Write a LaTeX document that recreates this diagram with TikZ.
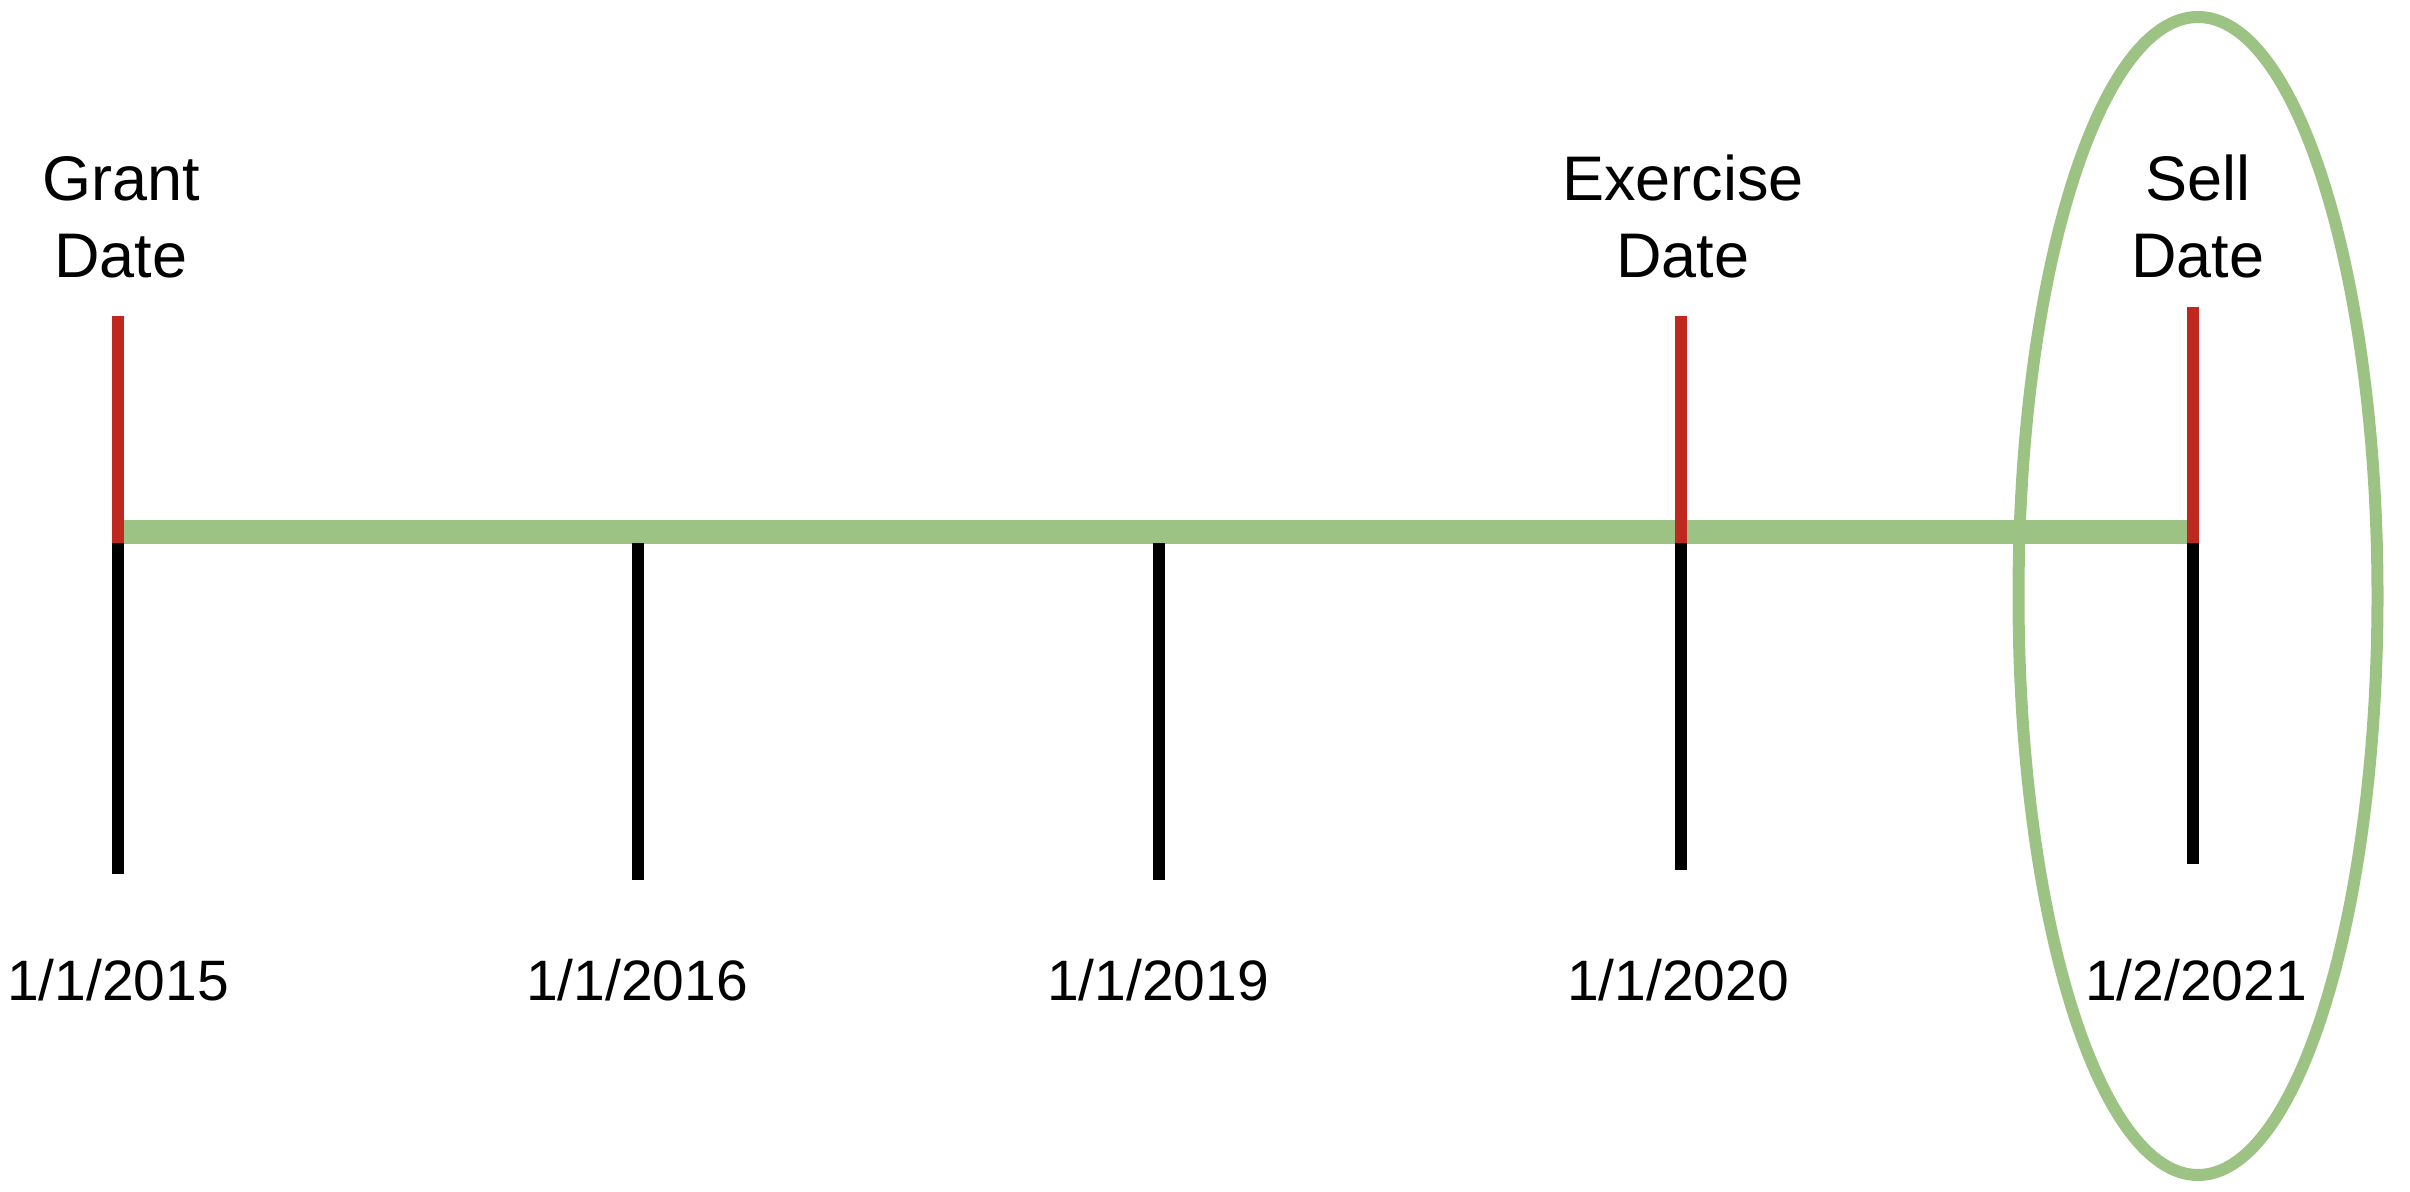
\documentclass[tikz,border=0pt]{standalone}
\usepackage{fontspec}
\setmainfont{Liberation Sans}
\usetikzlibrary{shapes.geometric}
\definecolor{tlgreen}{RGB}{157,195,132}
\definecolor{tlred}{RGB}{190,40,30}
\begin{document}
\begin{tikzpicture}[x=0.5pt,y=-0.5pt,
  axisline/.style={draw=tlgreen,line width=11.5pt},
  redtick/.style={draw=tlred,line width=6pt},
  blacktick/.style={draw=black,line width=6pt},
  evlabel/.style={font=\fontsize{31.5}{38.5}\selectfont,align=center,anchor=base,inner sep=0pt},
  datelabel/.style={font=\fontsize{28.5}{34}\selectfont,anchor=base,inner sep=0pt},
  oval/.style={ellipse,draw=tlgreen,line width=6pt,inner sep=0pt,minimum width=179.5pt,minimum height=579pt}]
\useasboundingbox (0,0) rectangle (2410,1192);
% axis points
\coordinate (a1) at (118,532);
\coordinate (a2) at (638,532);
\coordinate (a3) at (1159,532);
\coordinate (a4) at (1681,532);
\coordinate (a5) at (2193,532);
% tick joints (bottom edge of axis line)
\coordinate (j1) at (118,543);
\coordinate (j2) at (638,543);
\coordinate (j3) at (1159,543);
\coordinate (j4) at (1681,543);
\coordinate (j5) at (2193,543);
% red tops
\coordinate (r1) at (118,316);
\coordinate (r4) at (1681,316);
\coordinate (r5) at (2193,307);
% black bottoms
\coordinate (b1) at (118,874);
\coordinate (b2) at (638,880);
\coordinate (b3) at (1159,880);
\coordinate (b4) at (1681,870);
\coordinate (b5) at (2193,864);
\draw[axisline] (a1) -- (a5);
\draw[redtick] (r1) -- (j1);
\draw[redtick] (r4) -- (j4);
\draw[redtick] (r5) -- (j5);
\draw[blacktick] (j1) -- (b1);
\draw[blacktick] (j2) -- (b2);
\draw[blacktick] (j3) -- (b3);
\draw[blacktick] (j4) -- (b4);
\draw[blacktick] (j5) -- (b5);
\node[oval] (sellring) at (2198,596) {};
\node[evlabel] (grant) at (121,278) {Grant\\Date};
\node[evlabel] (exercise) at (1683,278) {Exercise\\Date};
\node[evlabel] (sell) at (2198,278) {Sell\\Date};
\node[datelabel] (d1) at (118,1000) {1/1/2015};
\node[datelabel] (d2) at (637,1000) {1/1/2016};
\node[datelabel] (d3) at (1158,1000) {1/1/2019};
\node[datelabel] (d4) at (1678,1000) {1/1/2020};
\node[datelabel] (d5) at (2196,1000) {1/2/2021};
\end{tikzpicture}
\end{document}
